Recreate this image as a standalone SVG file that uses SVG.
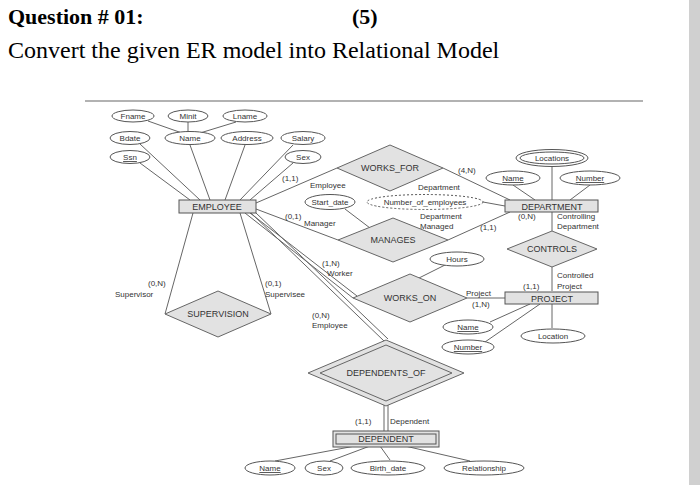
<svg xmlns="http://www.w3.org/2000/svg" width="700" height="485" viewBox="0 0 700 485">
<style>
.t{font-family:"Liberation Serif",serif;fill:#000}
.e{fill:#fff;stroke:#555;stroke-width:1}
.r{fill:#e2e2e2;stroke:#555;stroke-width:1}
.d{fill:#e2e2e2;stroke:#666;stroke-width:1}
.l{stroke:#666;stroke-width:1;fill:none}
.s{font-family:"Liberation Sans",sans-serif;font-size:8px;fill:#333}
.c{text-anchor:middle}
.u{text-decoration:underline}
.b{font-size:9px}
</style>
<rect width="700" height="485" fill="#fff"/>
<rect x="689" y="0" width="11" height="485" fill="#d0d0d0"/>
<text class="t" x="8" y="24" font-size="22" font-weight="bold">Question # 01:</text>
<text class="t" x="352" y="24" font-size="22" font-weight="bold">(5)</text>
<text class="t" x="8" y="58" font-size="24">Convert the given ER model into Relational Model</text>
<line x1="85" y1="101" x2="643" y2="101" stroke="#999" stroke-width="1.5"/>
<g id="connectors">
<path class="l" d="M148,121L182,133M188,122V132M236,122L200,133M140,144L200,200M190,145L210,200M245,145L225,200M293,145L240,200M140,163L190,200M293,163L250,200"/>
<path class="l" d="M256,203L337,168M443,168L510,200M256,209L338,240M448,240L510,212M345,209L370,228M483,202L505,206"/>
<path class="l" d="M552,166V200M513,185L535,200M590,185L570,200M552,212V231M552,267V291"/>
<path class="l" d="M445,265L415,280M467,298H505M530,304L490,322M540,304L485,342M552,304V328"/>
<path class="l" d="M193,213L165,314M240,213L271,314"/>
<path class="l" d="M245,213L353,298M250,213L357,296"/>
<path class="l" d="M251,213L384,341M256,213L388,339"/>
<path class="l" d="M384,405V431M388,405V431"/>
<path class="l" d="M355,446L275,461M370,446L330,461M380,446L390,460M405,446L470,461"/>
</g>
<g id="labels">
<text class="s" x="282" y="181">(1,1)</text><text class="s" x="310" y="188">Employee</text>
<text class="s" x="458" y="173">(4,N)</text><text class="s" x="418" y="190">Department</text>
<text class="s" x="285" y="219">(0,1)</text><text class="s" x="304" y="226">Manager</text>
<text class="s" x="420" y="219">Department</text><text class="s" x="420" y="229">Managed</text><text class="s" x="480" y="230">(1,1)</text>
<text class="s" x="518" y="219">(0,N)</text><text class="s" x="557" y="219">Controlling</text><text class="s" x="557" y="229">Department</text>
<text class="s" x="557" y="278">Controlled</text><text class="s" x="523" y="289">(1,1)</text><text class="s" x="557" y="289">Project</text>
<text class="s" x="466" y="296">Project</text><text class="s" x="472" y="307">(1,N)</text>
<text class="s" x="322" y="266">(1,N)</text><text class="s" x="327" y="276">Worker</text>
<text class="s" x="148" y="286">(0,N)</text><text class="s" x="115" y="297">Supervisor</text>
<text class="s" x="265" y="286">(0,1)</text><text class="s" x="265" y="297">Supervisee</text>
<text class="s" x="312" y="318">(0,N)</text><text class="s" x="312" y="328">Employee</text>
<text class="s" x="355" y="424">(1,1)</text><text class="s" x="390" y="424">Dependent</text>
</g>
<g id="attrs">
<ellipse class="e" cx="133" cy="116" rx="21" ry="6"/><text class="s c" x="133" y="119">Fname</text>
<ellipse class="e" cx="188" cy="116" rx="20" ry="6"/><text class="s c" x="188" y="119">Minit</text>
<ellipse class="e" cx="245" cy="116" rx="22" ry="6"/><text class="s c" x="245" y="119">Lname</text>
<ellipse class="e" cx="130" cy="138" rx="20" ry="6.5"/><text class="s c" x="130" y="141">Bdate</text>
<ellipse class="e" cx="190" cy="138" rx="25" ry="6.5"/><text class="s c" x="190" y="141">Name</text>
<ellipse class="e" cx="247" cy="138" rx="26" ry="6.5"/><text class="s c" x="247" y="141">Address</text>
<ellipse class="e" cx="303" cy="138" rx="22" ry="6.5"/><text class="s c" x="303" y="141">Salary</text>
<ellipse class="e" cx="130" cy="157" rx="20" ry="6.5"/><text class="s c u" x="130" y="160">Ssn</text>
<ellipse class="e" cx="303" cy="157" rx="18" ry="6.5"/><text class="s c" x="303" y="160">Sex</text>
<ellipse class="e" cx="552" cy="158" rx="36" ry="8.5"/><ellipse class="e" cx="552" cy="158" rx="32" ry="6"/><text class="s c" x="552" y="161">Locations</text>
<ellipse class="e" cx="513" cy="178" rx="27" ry="7"/><text class="s c u" x="513" y="181">Name</text>
<ellipse class="e" cx="590" cy="178" rx="30" ry="7"/><text class="s c u" x="590" y="181">Number</text>
<ellipse class="e" cx="330" cy="202" rx="25" ry="7.5"/><text class="s c" x="330" y="205">Start_date</text>
<ellipse class="e" cx="425" cy="202" rx="58" ry="7.5" stroke-dasharray="2,2"/><text class="s c" x="425" y="205">Number_of_employees</text>
<ellipse class="e" cx="457" cy="259" rx="27" ry="7"/><text class="s c" x="457" y="262">Hours</text>
<ellipse class="e" cx="468" cy="327" rx="25" ry="7"/><text class="s c u" x="468" y="330">Name</text>
<ellipse class="e" cx="468" cy="347" rx="26" ry="7"/><text class="s c u" x="468" y="350">Number</text>
<ellipse class="e" cx="553" cy="336" rx="32" ry="7"/><text class="s c" x="553" y="339">Location</text>
<ellipse class="e" cx="270" cy="468" rx="25" ry="7"/><text class="s c" x="270" y="471" text-decoration="underline" style="text-decoration-style:dashed">Name</text>
<ellipse class="e" cx="324" cy="468" rx="19" ry="7"/><text class="s c" x="324" y="471">Sex</text>
<ellipse class="e" cx="388" cy="468" rx="37" ry="7"/><text class="s c" x="388" y="471">Birth_date</text>
<ellipse class="e" cx="484" cy="468" rx="40" ry="7"/><text class="s c" x="484" y="471">Relationship</text>
</g>
<g id="EMPLOYEE"><rect class="r" x="179" y="200" width="77" height="13"/><text class="s c b" x="217" y="210">EMPLOYEE</text></g>
<g id="DEPARTMENT"><rect class="r" x="505" y="200" width="93" height="12"/><text class="s c b" x="552" y="209.5">DEPARTMENT</text></g>
<g id="PROJECT"><rect class="r" x="505" y="292" width="93" height="12"/><text class="s c b" x="552" y="301.5">PROJECT</text></g>
<g id="DEPENDENT"><rect class="r" x="333" y="431" width="106" height="16"/><rect fill="none" stroke="#555" x="336" y="434" width="100" height="10"/><text class="s c b" x="386" y="442">DEPENDENT</text></g>
<g id="WORKS_FOR"><polygon class="d" points="390,145 443,168 390,191 337,168"/><text class="s c b" x="390" y="171">WORKS_FOR</text></g>
<g id="MANAGES"><polygon class="d" points="393,218 448,240 393,262 338,240"/><text class="s c b" x="393" y="243">MANAGES</text></g>
<g id="CONTROLS"><polygon class="d" points="552,231 597,249 552,267 507,249"/><text class="s c b" x="552" y="252">CONTROLS</text></g>
<g id="WORKS_ON"><polygon class="d" points="410,274 467,298 410,322 353,298"/><text class="s c b" x="410" y="301">WORKS_ON</text></g>
<g id="SUPERVISION"><polygon class="d" points="218,291 271,314 218,337 165,314"/><text class="s c b" x="218" y="317">SUPERVISION</text></g>
<g id="DEPENDENTS_OF"><polygon class="d" points="386,340 464,373 386,406 308,373"/><polygon fill="none" stroke="#666" points="386,345 452,373 386,401 320,373"/><text class="s c b" x="386" y="376">DEPENDENTS_OF</text></g>
</svg>
